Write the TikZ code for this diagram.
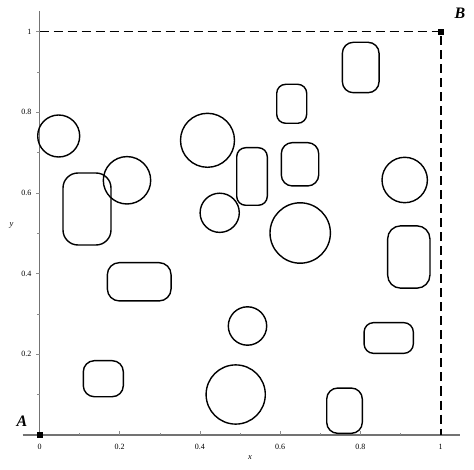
\documentclass[tikz,border=0pt]{standalone}
\usepackage{fontspec}
\setmainfont{Liberation Serif}
\begin{document}
\begin{tikzpicture}[x=1pt,y=-1pt,
  axisline/.style={draw=black!55,line width=1.2pt},
  tickmark/.style={draw=black!45,line width=0.6pt},
  ticklabel/.style={font=\fontsize{8}{9}\selectfont,inner sep=0pt},
  axislabel/.style={font=\fontsize{8.5}{9}\selectfont\itshape,inner sep=0pt},
  ptlabel/.style={font=\fontsize{16}{18}\selectfont\bfseries\itshape,inner sep=0pt},
  corner/.style={fill=black,inner sep=0pt,minimum size=6pt},
  bound/.style={draw=black,line width=1.6pt,dash pattern=on 9pt off 5pt},
  blob/.style={draw=black,line width=1.4pt,rectangle,inner sep=0pt},
  ball/.style={draw=black,line width=1.4pt,circle,inner sep=0pt}]
\useasboundingbox (0,0) rectangle (474,470);
% axes
\coordinate (ytop) at (39.5,11);
\coordinate (o) at (39.5,435);
\coordinate (xl) at (22.7,435);
\coordinate (xr) at (460,435);
\draw[axisline] (ytop) -- (o);
\draw[axisline] (xl) -- (xr);
% ticks
\foreach \i in {1,...,10}{
  \pgfmathsetmacro{\px}{39.5+40.12*\i}
  \pgfmathsetmacro{\py}{435-40.33*\i}
  \ifodd\i
    \draw[tickmark] (\px,435) -- (\px,432.5);
    \draw[tickmark] (39.5,\py) -- (37,\py);
  \else
    \draw[tickmark] (\px,435) -- (\px,431);
    \draw[tickmark] (39.5,\py) -- (35.5,\py);
  \fi
}
\foreach \v/\t in {0/0,0.2/0.2,0.4/0.4,0.6/0.6,0.8/0.8,1/1}{
  \pgfmathsetmacro{\px}{39.5+401.2*\v}
  \node[ticklabel] (xt\t) at (\px,446.5) {\t};
}
\foreach \v/\t in {0.2/0.2,0.4/0.4,0.6/0.6,0.8/0.8,1/1}{
  \pgfmathsetmacro{\py}{435-403.3*\v}
  \node[ticklabel,anchor=east] (yt\t) at (31.5,\py) {\t};
}
\node[axislabel] (xlab) at (250,457.5) {x};
\node[axislabel] (ylab) at (11.5,225) {y};
% corners and boundary
\coordinate (tl) at (39.5,31.7);
\coordinate (br) at (440.7,435);
\draw[bound] (tl) -- (440.7,31.7) -- (br);
\node[corner] (A) at (39.5,435) {};
\node[corner] (B) at (440.7,31.7) {};
\node[ptlabel] (Alab) at (22,421) {A};
\node[ptlabel] (Blab) at (460,13) {B};
% circles
\node[ball,minimum size=42pt] (c1) at (58.7,136) {};
\node[ball,minimum size=47.4pt] (c2) at (127,180.3) {};
\node[ball,minimum size=54pt] (c3) at (207.5,140.3) {};
\node[ball,minimum size=39.2pt] (c4) at (219.7,212.8) {};
\node[ball,minimum size=60.4pt] (c5) at (300.2,233) {};
\node[ball,minimum size=45.4pt] (c6) at (404.7,180) {};
\node[ball,minimum size=38.4pt] (c7) at (247.5,326) {};
\node[ball,minimum size=59.2pt] (c8) at (235.7,394.5) {};
% rounded boxes
\node[blob,rounded corners=15pt,minimum width=48pt,minimum height=72pt] (r1) at (87,209) {};
\node[blob,rounded corners=9pt,minimum width=30pt,minimum height=39pt] (r2) at (291.7,103.8) {};
\node[blob,rounded corners=9pt,minimum width=30.6pt,minimum height=57.6pt] (r3) at (252,176.5) {};
\node[blob,rounded corners=11pt,minimum width=37.4pt,minimum height=43.3pt] (r4) at (300,164.3) {};
\node[blob,rounded corners=11pt,minimum width=36.7pt,minimum height=50.4pt] (r5) at (360.7,67.5) {};
\node[blob,rounded corners=13pt,minimum width=42.3pt,minimum height=62.3pt] (r6) at (408.8,257) {};
\node[blob,rounded corners=12pt,minimum width=63.7pt,minimum height=38.3pt] (r7) at (139.2,281.8) {};
\node[blob,rounded corners=11pt,minimum width=40pt,minimum height=36pt] (r8) at (103.3,378.7) {};
\node[blob,rounded corners=9.5pt,minimum width=49.3pt,minimum height=30.7pt] (r9) at (388.7,338) {};
\node[blob,rounded corners=11pt,minimum width=35.6pt,minimum height=45.3pt] (r10) at (344.5,410.7) {};
\end{tikzpicture}
\end{document}
